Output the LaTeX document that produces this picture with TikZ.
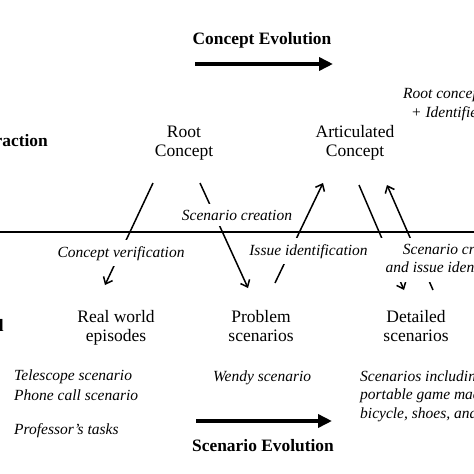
\documentclass[tikz,border=0pt]{standalone}
\usepackage{fontspec}
\setmainfont{Liberation Serif}
\usetikzlibrary{arrows.meta}
\begin{document}
\begin{tikzpicture}[x=1pt,y=-1pt,
  concept/.style={font=\fontsize{17.5}{19.5}\selectfont, align=center, inner sep=0pt, anchor=base},
  title/.style={font=\fontsize{17.4}{20}\selectfont\bfseries, inner sep=0pt, anchor=base},
  side/.style={font=\fontsize{17.4}{20}\selectfont\bfseries, inner sep=0pt, anchor=base east},
  lbl/.style={font=\fontsize{15.5}{18.5}\selectfont\itshape, fill=white, inner sep=6pt, align=center, anchor=base},
  note/.style={font=\fontsize{15.5}{19}\selectfont\itshape, inner sep=0pt, align=left, anchor=base west},
  thin/.style={line width=1.5pt, -{Straight Barb[length=6pt,width=10pt,line width=1.5pt]}},
  thick/.style={line width=4pt, -{Triangle[length=14pt,width=13pt]}},
  axis/.style={line width=2pt}]
\useasboundingbox (0,0) rectangle (474,474);
\clip (0,0) rectangle (474,474);
\fill[white] (0,0) rectangle (474,474);

% main nodes (anchor = baseline of last line)
\node[concept] (root) at (184,156.5) {Root\\Concept};
\node[concept] (artic) at (355,156.5) {Articulated\\Concept};
\node[concept] (real) at (116,341.5) {Real world\\episodes};
\node[concept] (prob) at (261,341.5) {Problem\\scenarios};
\node[concept] (det) at (416,341.5) {Detailed\\scenarios};

% titles
\node[title] (ce) at (262,44.5) {Concept Evolution};
\node[title] (se) at (263,451) {Scenario Evolution};
\coordinate (ceA) at (195,64);
\coordinate (ceB) at (333,64);
\coordinate (seA) at (196,421);
\coordinate (seB) at (332,421);
\draw[thick] (ceA) -- (ceB);
\draw[thick] (seA) -- (seB);

% side labels
\node[side] (abs) at (48,146) {Abstraction};
\node[side] (lev) at (4,331) {Concrete level};

% horizontal divider
\coordinate (hl) at (0,232);
\coordinate (hr) at (474,232);
\draw[axis] (hl) -- (hr);

% connectors
\coordinate (a1s) at (153,183);
\coordinate (a1e) at (105,285);
\coordinate (a2s) at (200,183);
\coordinate (a2e) at (248,288);
\coordinate (a3s) at (275,283);
\coordinate (a3e) at (323,183);
\coordinate (a4s) at (359,185);
\coordinate (a4e) at (404,290);
\coordinate (a5s) at (433,290);
\coordinate (a5e) at (387,185);
\draw[thin] (a1s) -- (a1e);
\draw[thin] (a2s) -- (a2e);
\draw[thin] (a3s) -- (a3e);
\draw[thin] (a4s) -- (a4e);
\draw[thin] (a5s) -- (a5e);

% connector labels
\node[lbl] (l1) at (121,257) {Concept verification};
\node[lbl] (l2) at (237,220) {Scenario creation};
\node[lbl] (l3) at (308.5,255) {Issue identification};
\node[lbl] (l4) at (458,272.5) {Scenario creation\\and issue identification};

% notes
\node[note] (n0) at (403,117) {Root concept\\\hspace*{8pt}+ Identified issues};
\node[note, font=\fontsize{15.5}{19.5}\selectfont\itshape] (n1) at (14,400) {Telescope scenario\\Phone call scenario};
\node[note] (n2) at (14,434) {Professor’s tasks};
\node[note] (n3) at (213,381) {Wendy scenario};
\node[note, font=\fontsize{15.5}{18.5}\selectfont\itshape] (n4) at (360,418) {Scenarios including\\portable game machine,\\bicycle, shoes, and others};
\end{tikzpicture}
\end{document}
